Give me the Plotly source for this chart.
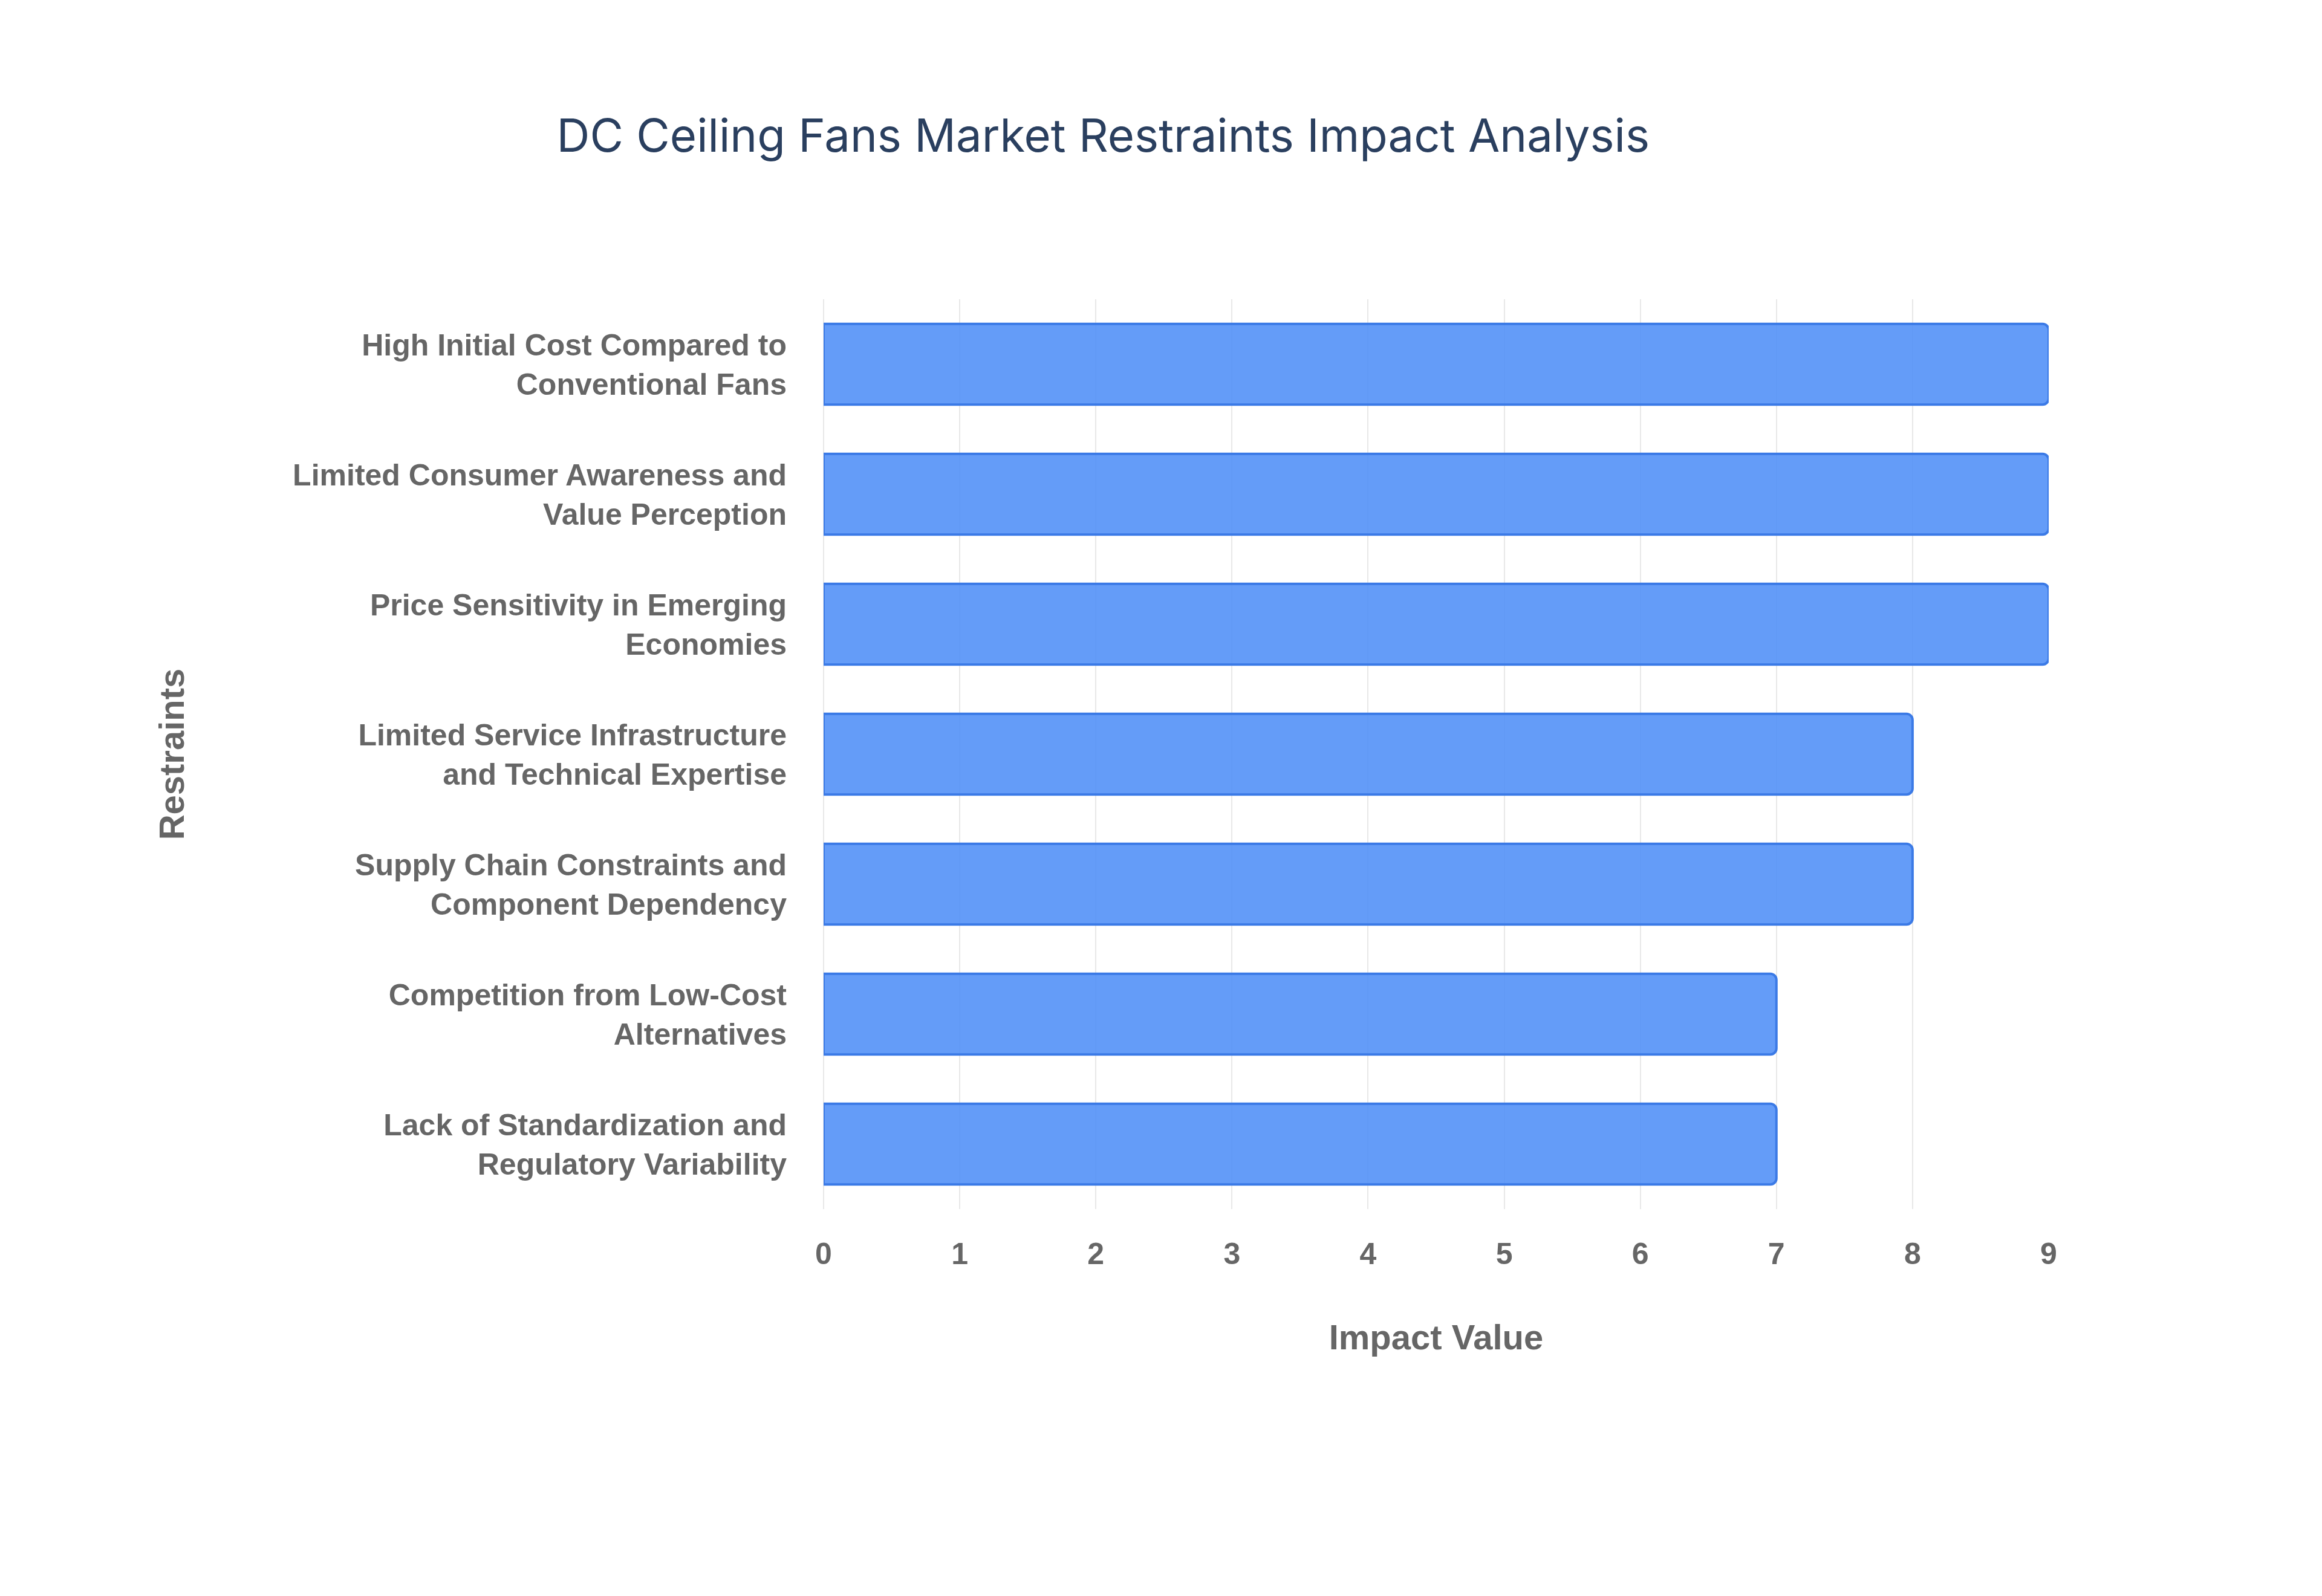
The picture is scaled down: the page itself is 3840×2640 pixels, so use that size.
import plotly.graph_objects as go

restraints = [
    "High Initial Cost Compared to<br>Conventional Fans",
    "Limited Consumer Awareness and<br>Value Perception",
    "Price Sensitivity in Emerging<br>Economies",
    "Limited Service Infrastructure<br>and Technical Expertise",
    "Supply Chain Constraints and<br>Component Dependency",
    "Competition from Low-Cost<br>Alternatives",
    "Lack of Standardization and<br>Regulatory Variability",
]
impact = [9, 9, 9, 8, 8, 7, 7]
x_ticks = [0, 1, 2, 3, 4, 5, 6, 7, 8, 9]

fig = go.Figure()
fig.add_bar(
    x=impact, y=restraints, orientation="h",
    marker=dict(color="rgba(79,142,247,0.88)", line=dict(color="#3b7ae6", width=4),
                cornerradius=10),
)

label_font = dict(family="Liberation Sans", size=50, color="#666666", weight="bold")
fig.update_layout(
    width=3840, height=2640,
    paper_bgcolor="white", plot_bgcolor="white",
    margin=dict(l=1354, r=460, t=487, b=648),
    bargap=0.38,
    showlegend=False,
    title=dict(text="DC Ceiling Fans Market Restraints Impact Analysis",
               x=0.473, xanchor="center", y=0.918, yanchor="middle",
               font=dict(family="Inter", size=76, color="#2a3f5f")),
)
fig.update_xaxes(
    range=[0, 9], tickvals=x_ticks, tickfont=label_font,
    showgrid=True, gridcolor="#e8e8e8", gridwidth=2,
    zeroline=True, zerolinecolor="#e8e8e8", zerolinewidth=2,
    title=dict(text="Impact Value", font=dict(family="Liberation Sans", size=58,
               color="#666666", weight="bold"), standoff=90),
    ticks="outside", ticklen=30, tickcolor="white",
)
fig.update_yaxes(
    autorange="reversed", tickfont=label_font, ticks="outside", ticklen=50,
    tickcolor="white", showgrid=False,
    title=dict(text="Restraints", font=dict(family="Liberation Sans", size=58,
               color="#666666", weight="bold"), standoff=160),
)

fig.write_html("out.html")
